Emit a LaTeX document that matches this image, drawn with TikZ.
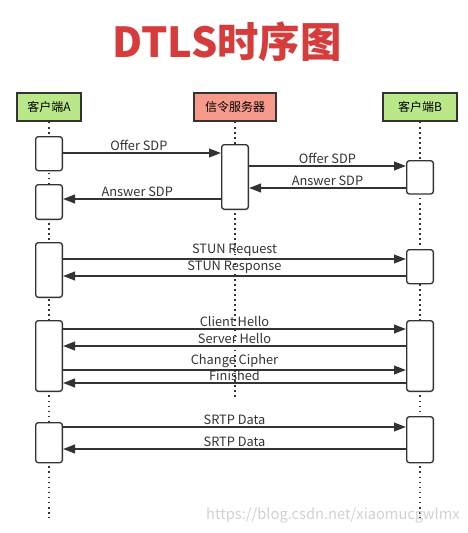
\documentclass[tikz,border=0pt]{standalone}
\usepackage{fontspec}
\setmainfont{Noto Sans CJK SC}
\usepackage{xcolor}
\usetikzlibrary{arrows.meta,positioning,calc}

\definecolor{titlered}{HTML}{D63C3C}
\definecolor{clientgreen}{HTML}{BAE889}
\definecolor{serverred}{HTML}{F79A8B}
\definecolor{linegray}{HTML}{333333}

\begin{document}
\begin{tikzpicture}[
    x=0.75pt, y=-0.75pt,
    actor/.style={rectangle, draw=linegray, line width=1.3pt, minimum height=21pt, inner sep=2pt, font=\fontsize{9}{10}\selectfont},
    lifeline/.style={draw=linegray, line width=1.2pt, dash pattern=on 1.2pt off 2.6pt},
    active/.style={rectangle, rounded corners=2pt, draw=linegray, line width=1pt, fill=white, minimum width=20pt, anchor=north},
    msg/.style={-{Triangle[length=9pt, width=6.5pt]}, draw=linegray, line width=1.4pt},
    msglabel/.style={above, inner sep=1.2pt, font=\fontsize{9.6}{10}\selectfont, text=linegray},
]
\useasboundingbox (0,0) rectangle (468,533);

% Title
\node[font=\fontsize{31}{33}\selectfont\bfseries, text=titlered] (title) at (227,42) {DTLS时序图};

% Actors
\node[actor, fill=clientgreen, minimum width=48pt] (cliA) at (49,107) {客户端A};
\node[actor, fill=serverred, minimum width=61pt] (srv) at (235,107) {信令服务器};
\node[actor, fill=clientgreen, minimum width=55pt] (cliB) at (420,107) {客户端B};

% Lifelines
\coordinate (endA) at (49,518);
\coordinate (endS) at (235,398);
\coordinate (endB) at (420,518);
\draw[lifeline] (cliA.south) -- (endA);
\draw[lifeline] (srv.south) -- (endS);
\draw[lifeline] (cliB.south) -- (endB);

% Activation boxes - SDP exchange
\node[active, minimum height=25.5pt] (a1) at (49,136) {};
\node[active, minimum height=26pt] (a2) at (49,184) {};
\node[active, minimum height=48.5pt] (s1) at (235,144) {};
\node[active, minimum height=25pt] (b1) at (420,160) {};

% Activation boxes - STUN
\node[active, minimum height=41pt] (a3) at (49,242) {};
\node[active, minimum height=25.5pt] (b2) at (420,249) {};

% Activation boxes - DTLS handshake
\node[active, minimum height=53pt] (a4) at (49,320) {};
\node[active, minimum height=53pt] (b3) at (420,320) {};

% Activation boxes - SRTP
\node[active, minimum height=30pt] (a5) at (49,422) {};
\node[active, minimum height=34.5pt] (b4) at (420,416) {};

% SDP messages
\draw[msg] (a1.east |- 0,153) -- node[msglabel, pos=0.48] {Offer SDP} (s1.west |- 0,153);
\draw[msg] (s1.east |- 0,166) -- node[msglabel] {Offer SDP} (b1.west |- 0,166);
\draw[msg] (b1.west |- 0,188) -- node[msglabel, pos=0.5] {Answer SDP} (s1.east |- 0,188);
\draw[msg] (s1.west |- 0,199) -- node[msglabel, pos=0.53] {Answer SDP} (a2.east |- 0,199);

% STUN messages
\draw[msg] (a3.east |- 0,259) -- node[msglabel] {STUN Request} (b2.west |- 0,259);
\draw[msg] (b2.west |- 0,276) -- node[msglabel] {STUN Response} (a3.east |- 0,276);

% DTLS handshake
\draw[msg] (a4.east |- 0,329) -- node[msglabel] {Client Hello} (b3.west |- 0,329);
\draw[msg] (b3.west |- 0,346) -- node[msglabel] {Server Hello} (a4.east |- 0,346);
\draw[msg] (a4.east |- 0,370) -- node[msglabel] {Change Cipher} (b3.west |- 0,370);
\draw[msg] (b3.west |- 0,383) -- node[msglabel] {Finished} (a4.east |- 0,383);

% SRTP data
\draw[msg] (a5.east |- 0,427) -- node[msglabel] {SRTP Data} (b4.west |- 0,427);
\draw[msg] (b4.west |- 0,449) -- node[msglabel] {SRTP Data} (a5.east |- 0,449);

% Watermark
\node[font=\fontsize{11}{12}\selectfont, text=black!18] (mark) at (333,515) {https://blog.csdn.net/xiaomucgwlmx};

\end{tikzpicture}
\end{document}
